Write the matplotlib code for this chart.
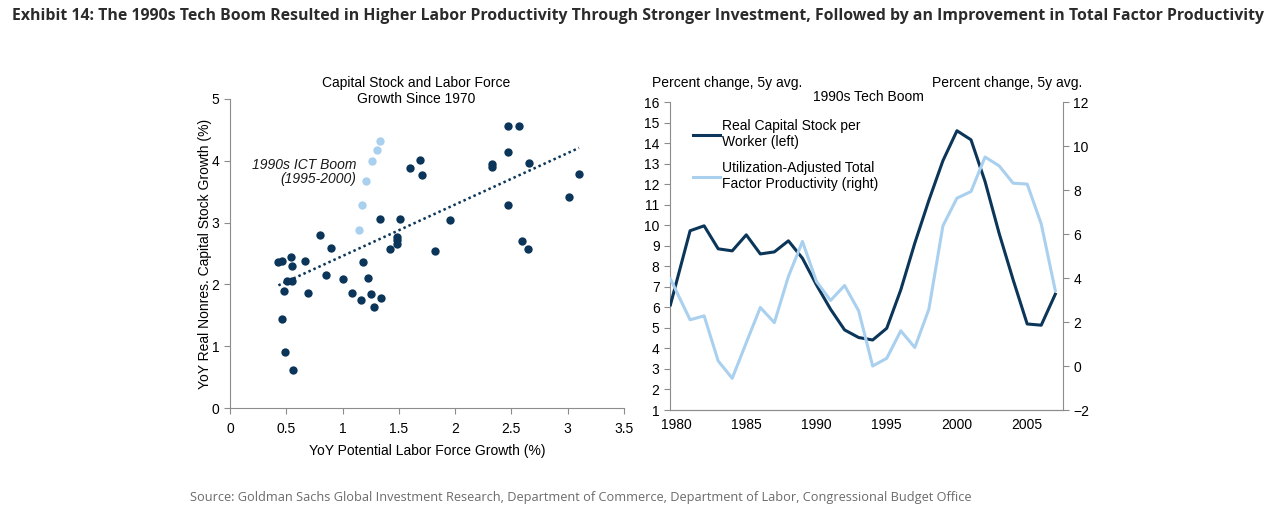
import matplotlib
matplotlib.use("Agg")
import matplotlib.pyplot as plt
import numpy as np

# ---------------- data ----------------
# Left: scatter, 1970 onward (labor force growth %, capital stock growth %)
labor_x = [0.43, 0.46, 0.54, 0.55, 0.67, 0.51, 0.55, 0.48, 0.69, 0.85, 0.80, 0.90,
           1.00, 1.08, 1.16, 1.18, 1.23, 1.25, 1.28, 1.34, 1.33, 1.42, 1.48, 1.48,
           1.48, 1.51, 1.60, 1.69, 1.71, 1.82, 1.95, 2.33, 2.33, 2.47, 2.57, 2.47,
           2.66, 2.47, 2.59, 2.65, 3.01, 3.10, 0.46, 0.49, 0.56]
capital_y = [2.36, 2.38, 2.45, 2.29, 2.38, 2.05, 2.05, 1.90, 1.86, 2.15, 2.80, 2.59,
             2.08, 1.86, 1.75, 2.36, 2.11, 1.85, 1.63, 1.78, 3.06, 2.57, 2.77, 2.72,
             2.66, 3.06, 3.89, 4.02, 3.77, 2.54, 3.05, 3.95, 3.90, 4.57, 4.56, 4.15,
             3.96, 3.29, 2.70, 2.57, 3.42, 3.78, 1.44, 0.91, 0.62]
boom_x = [1.15, 1.17, 1.21, 1.26, 1.31, 1.33]
boom_y = [2.88, 3.28, 3.67, 4.00, 4.18, 4.32]

# Right: time series
years = [1979.6, 1981, 1982, 1983, 1984, 1985, 1986, 1987, 1988, 1989, 1990, 1991,
         1992, 1993, 1994, 1995, 1996, 1997, 1998, 1999, 2000, 2001, 2002, 2003,
         2004, 2005, 2006, 2007]
capital_per_worker = [6.12, 9.73, 9.97, 8.85, 8.75, 9.53, 8.60, 8.70, 9.24, 8.39,
                      7.09, 5.91, 4.90, 4.53, 4.41, 4.98, 6.85, 9.13, 11.21, 13.14,
                      14.60, 14.16, 12.13, 9.61, 7.34, 5.19, 5.13, 6.64]
tfp = [3.96, 2.10, 2.28, 0.23, -0.56, 1.06, 2.66, 1.97, 4.07, 5.66, 3.84, 2.98,
       3.66, 2.51, 0.00, 0.35, 1.60, 0.84, 2.58, 6.37, 7.63, 7.93, 9.50, 9.10,
       8.31, 8.27, 6.46, 3.43]

DARK = "#0b3559"
LIGHT = "#a9d0ee"
GRAY = "#8c8c8c"

plt.rcParams['font.family'] = ['Liberation Sans', 'DejaVu Sans']

W, H = 1281, 521
fig = plt.figure(figsize=(W / 100, H / 100), dpi=100)

def ax_rect(x0, y0, x1, y1):
    return [x0 / W, 1 - y1 / H, (x1 - x0) / W, (y1 - y0) / H]

FS = 10

# --------- Left scatter ----------
ax1 = fig.add_axes(ax_rect(230, 99, 624, 408))
ax1.scatter(labor_x, capital_y, s=36, color=DARK, zorder=3, linewidths=0)
ax1.scatter(boom_x, boom_y, s=36, color=LIGHT, zorder=3, linewidths=0)
coef = np.polyfit(labor_x + boom_x, capital_y + boom_y, 1)
tx = np.array([min(labor_x), max(labor_x)])
ax1.plot(tx, np.polyval(coef, tx), color=DARK, linestyle=(0, (1, 1.2)), lw=1.8, zorder=2)
ax1.set_xlim(0, 3.5)
ax1.set_ylim(0, 5)
ax1.set_xticks(np.arange(0, 3.51, 0.5))
ax1.set_xticklabels(["0", "0.5", "1", "1.5", "2", "2.5", "3", "3.5"])
ax1.set_yticks(range(0, 6))
for s in ["top", "right"]:
    ax1.spines[s].set_visible(False)
for s in ["left", "bottom"]:
    ax1.spines[s].set_color(GRAY)
ax1.tick_params(colors=GRAY, labelcolor="black", labelsize=FS, length=4, direction="out")
ax1.tick_params(axis="x", pad=6)
ax1.set_xlabel("YoY Potential Labor Force Growth (%)", fontsize=FS, labelpad=6)
ax1.set_ylabel("YoY Real Nonres. Capital Stock Growth (%)", fontsize=FS, labelpad=0)
ax1.text(1.12, 3.82, "1990s ICT Boom\n(1995-2000)", fontsize=FS, style="italic",
         ha="right", va="center", color="#1a1a1a", linespacing=1.05,
         transform=ax1.transData)
fig.text(416 / W, 1 - 91 / H, "Capital Stock and Labor Force\nGrowth Since 1970",
         ha="center", va="center", fontsize=FS, linespacing=1.15)

# --------- Right time series ----------
ax2 = fig.add_axes(ax_rect(670, 102, 1063, 410))
ax2.plot(years, capital_per_worker, color=DARK, lw=2.2, zorder=3,
         label="Real Capital Stock per\nWorker (left)")
ax2.set_xlim(1979.57, 2007.55)
ax2.set_ylim(1, 16)
ax2.set_yticks(range(1, 17))
ax2.set_xticks([1980, 1985, 1990, 1995, 2000, 2005])
ax3 = ax2.twinx()
ax3.plot(years, tfp, color=LIGHT, lw=2.2, zorder=2,
         label="Utilization-Adjusted Total\nFactor Productivity (right)")
ax3.set_ylim(-2, 12)
ax3.set_yticks(range(-2, 13, 2))
for a in (ax2, ax3):
    a.spines["top"].set_visible(False)
    for s in ["left", "right", "bottom"]:
        a.spines[s].set_color(GRAY)
    a.tick_params(colors=GRAY, labelcolor="black", labelsize=FS, length=4, direction="out")
ax2.tick_params(axis="x", length=0, pad=6)
ax2.spines["right"].set_visible(False)
ax3.spines["left"].set_visible(False)

h1, l1 = ax2.get_legend_handles_labels()
h2, l2 = ax3.get_legend_handles_labels()
leg = ax2.legend(h1 + h2, l1 + l2, loc="upper left", bbox_to_anchor=(0.058, 0.945),
                 frameon=False, fontsize=FS, handlelength=1.95, handletextpad=0.15,
                 labelspacing=0.85, borderaxespad=0, borderpad=0)

fig.text(652 / W, 1 - 83 / H, "Percent change, 5y avg.", ha="left", va="center", fontsize=FS)
fig.text(1082 / W, 1 - 83 / H, "Percent change, 5y avg.", ha="right", va="center", fontsize=FS)
fig.text(868 / W, 1 - 97 / H, "1990s Tech Boom", ha="center", va="center", fontsize=FS)

# --------- Title & source ----------
fig.text(12 / W, 1 - 16 / H,
         "Exhibit 14: The 1990s Tech Boom Resulted in Higher Labor Productivity Through Stronger Investment, Followed by an Improvement in Total Factor Productivity",
         ha="left", va="center", fontsize=11.4, fontweight="bold", color="#2b2b2b",
         family=["Open Sans", "DejaVu Sans"])
fig.text(190 / W, 1 - 497 / H,
         "Source: Goldman Sachs Global Investment Research, Department of Commerce, Department of Labor, Congressional Budget Office",
         ha="left", va="center", fontsize=9.2, color="#6b6b6b",
         family=["Open Sans", "DejaVu Sans"])

fig.savefig("out.png", dpi=100)
